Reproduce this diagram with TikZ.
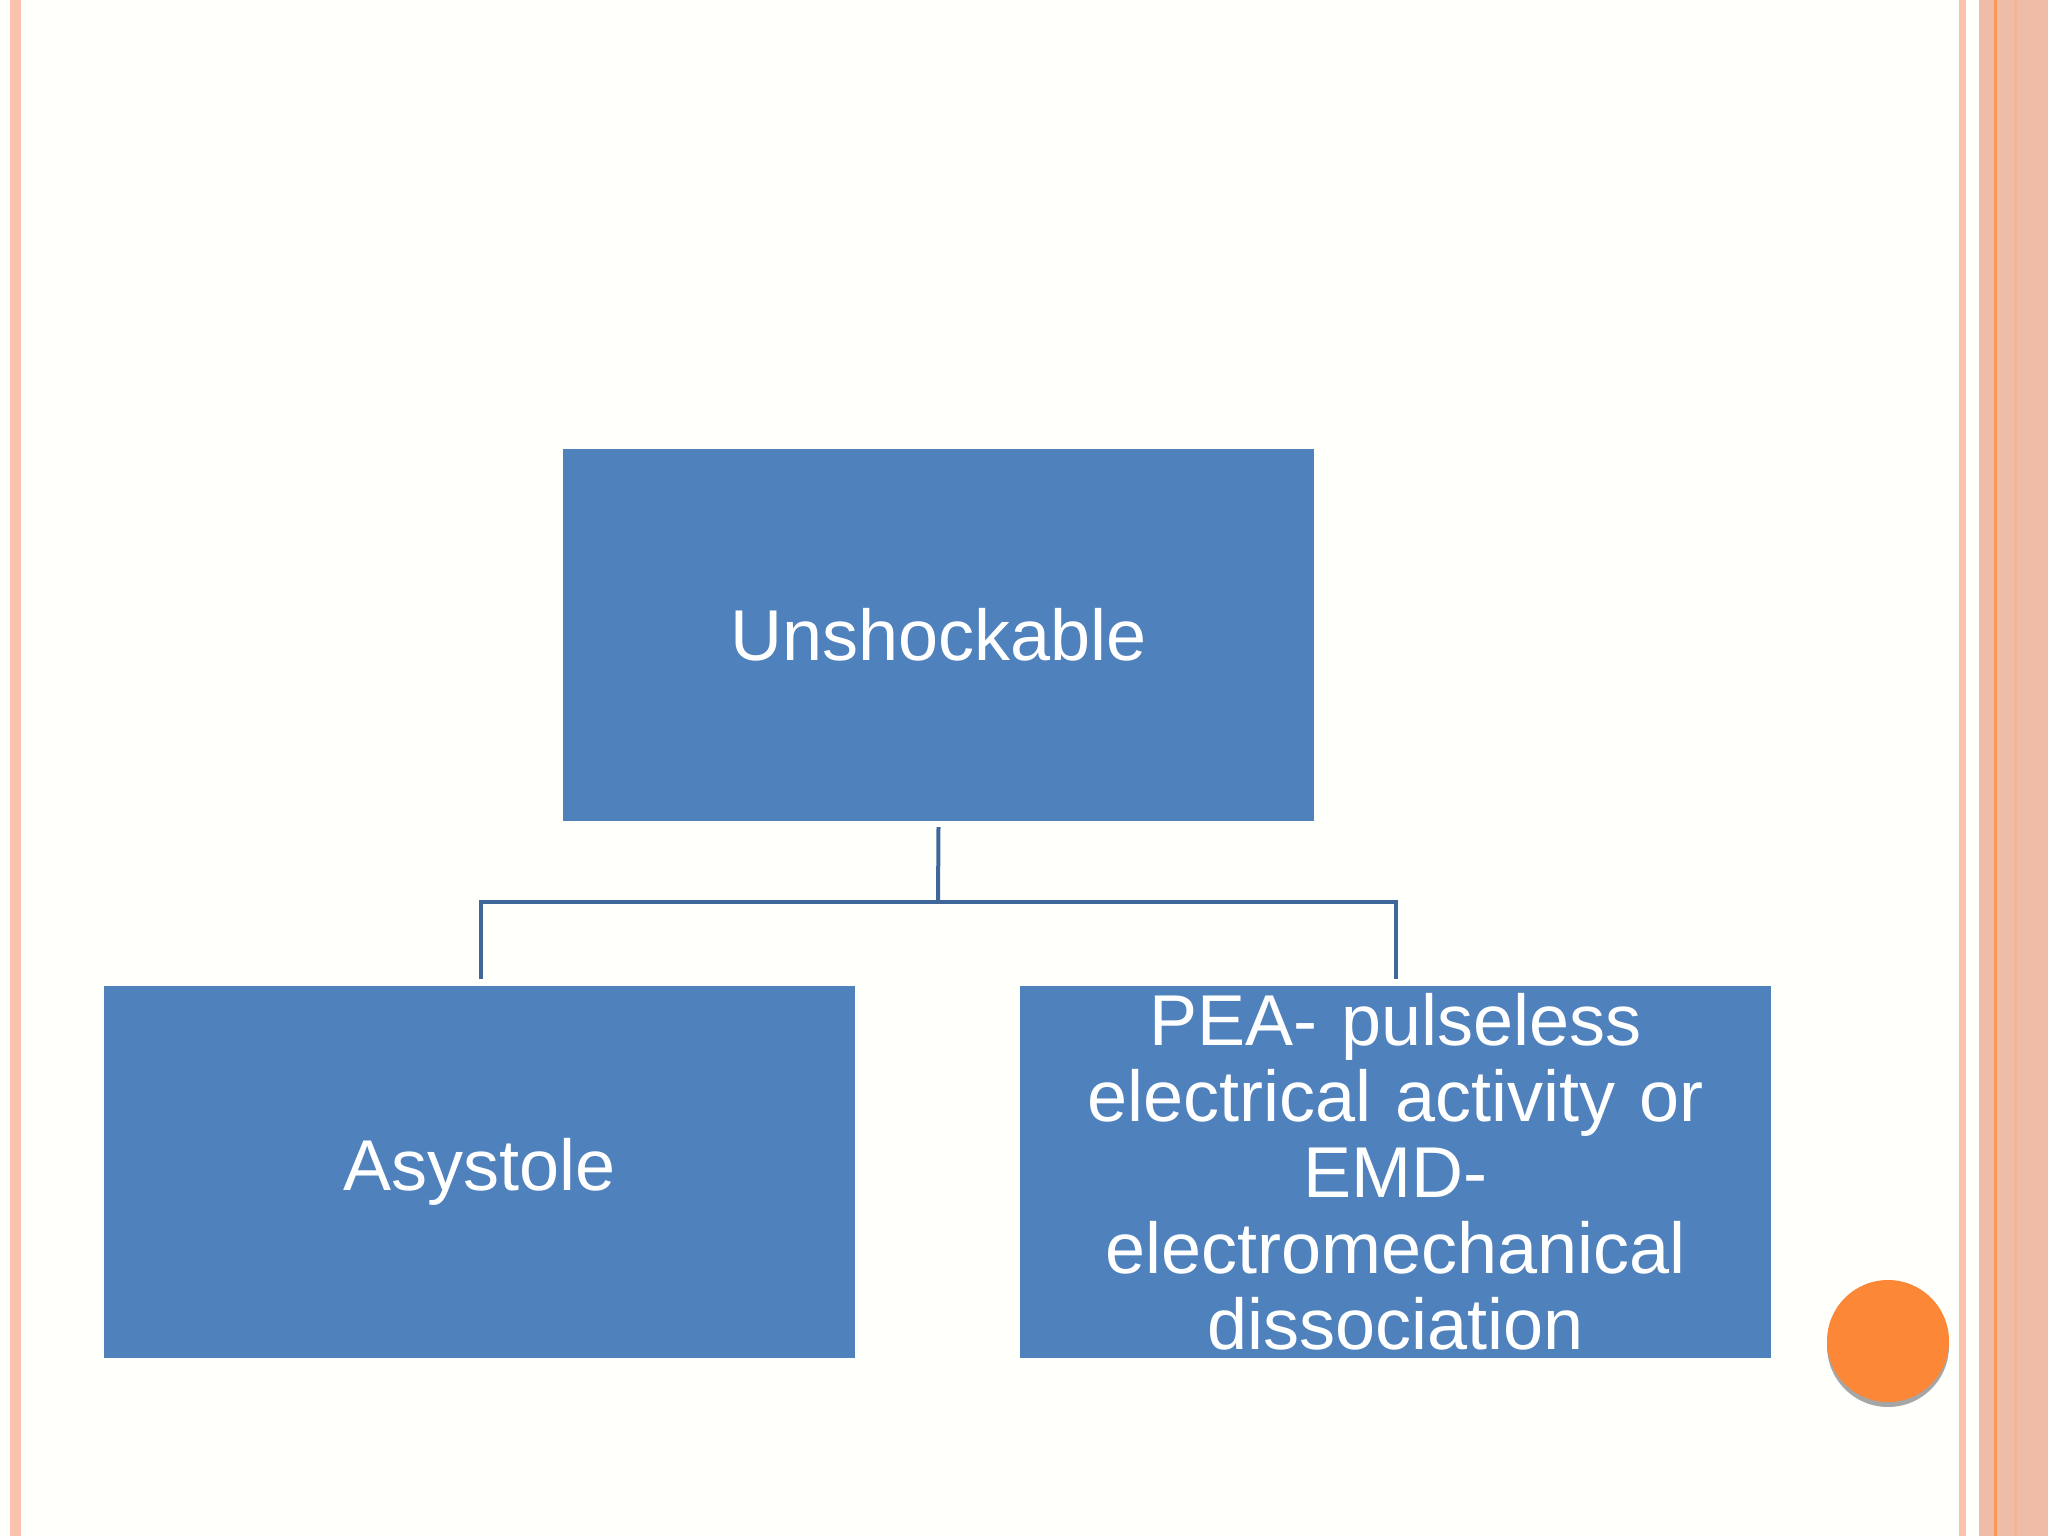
\documentclass[tikz,border=0pt]{standalone}
\usepackage{fontspec}
\setmainfont{Liberation Sans}
\definecolor{boxblue}{HTML}{4F81BD}
\definecolor{linkblue}{HTML}{40679A}
\definecolor{pinkline}{HTML}{F9C3B0}
\definecolor{band}{HTML}{EFBCA8}
\definecolor{orangec}{HTML}{FB8737}
\begin{document}
\begin{tikzpicture}[x=1pt,y=-1pt,
  box/.style={fill=boxblue,draw=none,text=white,align=center,font=\fontsize{72}{76}\selectfont},
  link/.style={draw=linkblue,line width=4pt}]
\fill[white!98!yellow!50!white] (0,0) rectangle (2048,1536);
\useasboundingbox (0,0) rectangle (2048,1536);
\fill[pinkline] (10,0) rectangle (21,1536);
\fill[pinkline] (1959,0) rectangle (1966,1536);
\fill[band] (1979,0) rectangle (2048,1536);
\fill[orangec!70!band] (1994,0) rectangle (1997,1536);
\fill[band!90!orange] (2014,0) rectangle (2017,1536);
\node[box,minimum width=751pt,minimum height=372pt] (top) at (938.5,635) {Unshockable};
\node[box,minimum width=751pt,minimum height=372pt] (left) at (479.5,1172) {Asystole};
\node[box,minimum width=751pt,minimum height=372pt,text width=700pt] (right) at (1395.5,1172) {PEA- pulseless\\electrical activity or\\EMD-\\electromechanical\\dissociation};
\coordinate (mid) at (938,902);
\draw[link] ([yshift=-6pt]top.south) -- (mid);
\draw[link] (481,979) -- (481,902) -- (1396,902) -- (1396,979);
\fill[gray!70] (1888,1346) circle (61);
\fill[orangec] (1888,1341) circle (61);
\end{tikzpicture}
\end{document}
